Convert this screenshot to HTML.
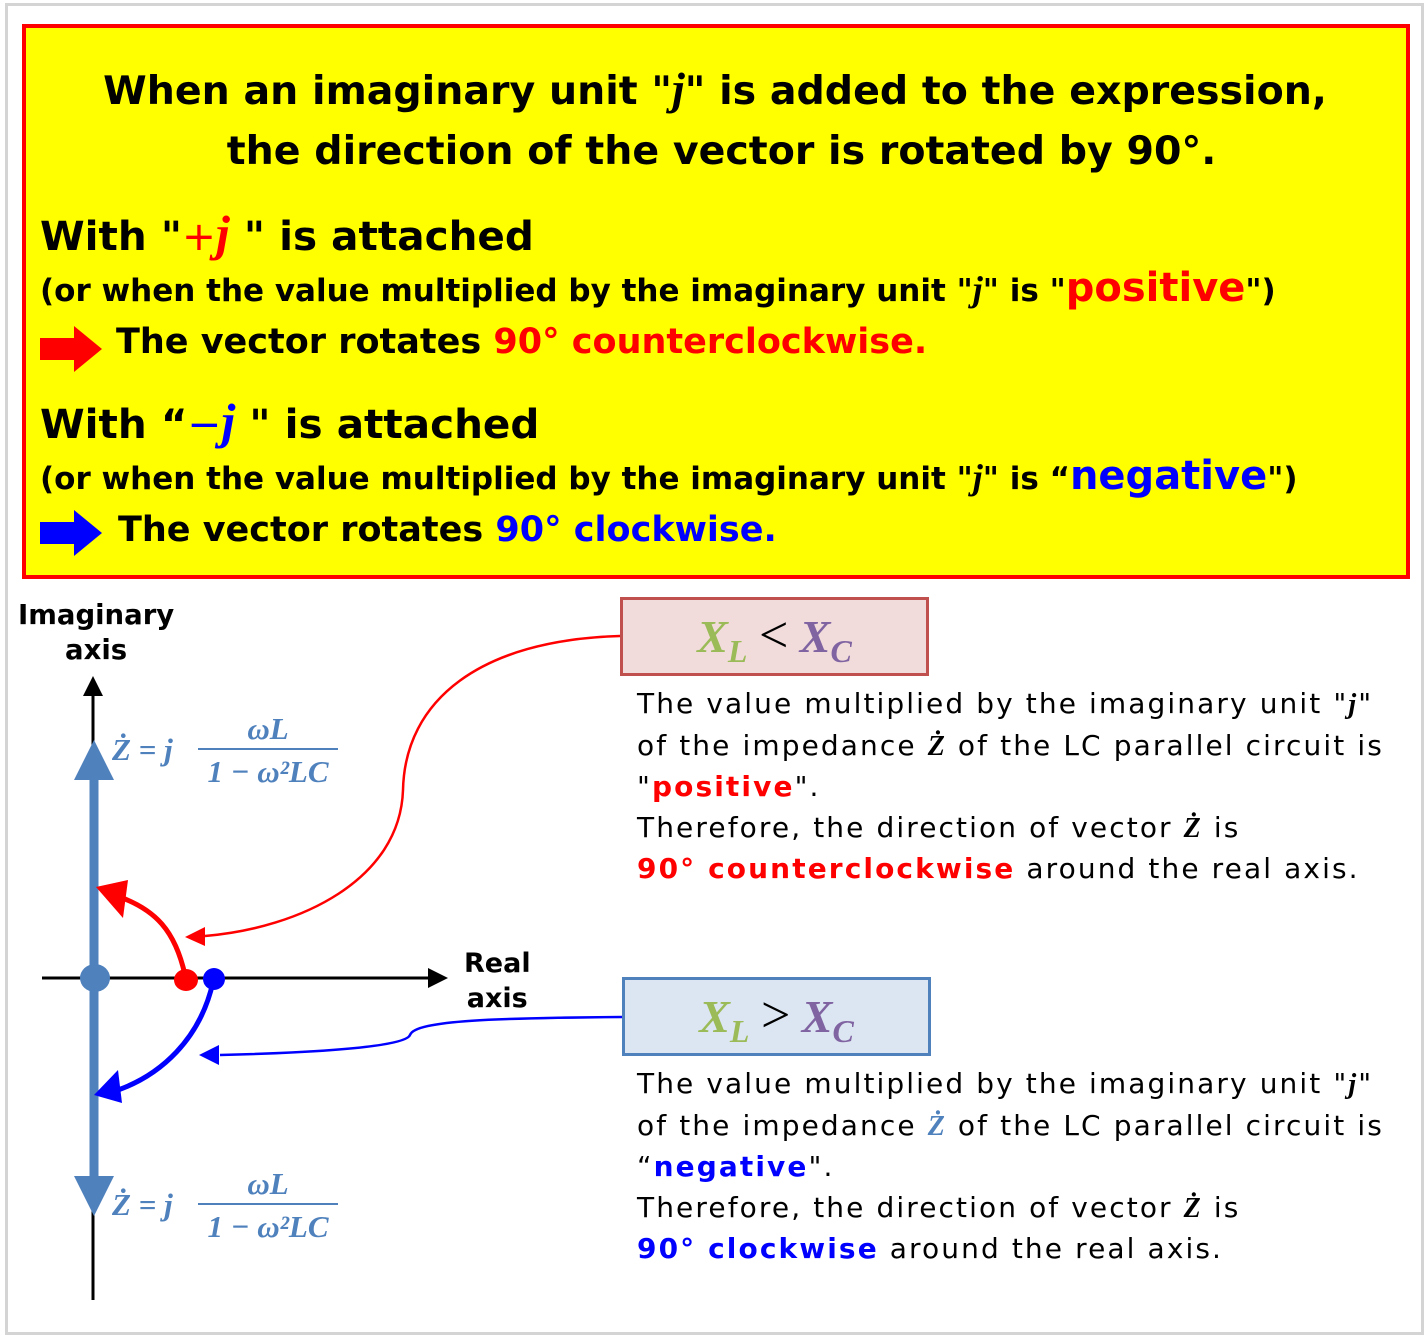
<!DOCTYPE html>
<html><head><meta charset="utf-8"><style>
body{margin:0;width:1427px;height:1337px;background:#fff;position:relative;overflow:hidden;font-family:"DejaVu Sans","Liberation Sans",sans-serif}
.frame{position:absolute;left:5px;top:3px;width:1413px;height:1326px;border:3px solid #d4d4d4}
.yb{position:absolute;left:22px;top:24px;width:1380px;height:547px;background:#ffff00;border:4px solid #ff0000}
.t{position:absolute;white-space:nowrap;font-weight:bold;color:#000}
.r{color:#ff0000}.b{color:#0000ff}
.j{font-family:"Liberation Serif",serif;font-style:italic;font-weight:bold}
.p{position:absolute;left:637px;white-space:nowrap;font-size:28px;color:#000;letter-spacing:2.1px;line-height:40.5px}
.box{position:absolute;font-family:"Liberation Serif",serif;font-style:italic;font-weight:bold;font-size:46px;text-align:center;box-sizing:border-box;border:3px solid}
.m{font-family:"Liberation Serif",serif;font-style:italic;font-weight:bold}
.f{position:absolute;font-family:"Liberation Serif",serif;font-style:italic;font-weight:bold;color:#4f81bd;font-size:31px;white-space:nowrap}
</style></head><body>
<div class="frame"></div>
<div class="yb"></div>
<div class="t" style="left:0;width:1430px;text-align:center;top:62px;font-size:39.5px">When an imaginary unit "<span class="j" style="font-size:46px">j</span>" is added to the expression,</div>
<div class="t" style="left:0;width:1443px;text-align:center;top:128px;font-size:39.5px">the direction of the vector is rotated by 90°.</div>
<div class="t" style="left:40px;top:204px;font-size:40.5px">With "<span class="r" style="font-weight:normal">+</span><span class="j r" style="font-size:50px">j</span> " is attached</div>
<div class="t" style="left:40px;top:265px;font-size:31px">(or when the value multiplied by the imaginary unit "<span class="j" style="font-size:36px">j</span>" is "<span class="r" style="font-size:40px">positive</span>")</div>
<svg style="position:absolute;left:40px;top:326px" width="62" height="46"><polygon points="0,12 34,12 34,0 62,23 34,46 34,34 0,34" fill="#ff0000"/></svg>
<div class="t" style="left:116px;top:322px;font-size:35px">The vector rotates <span class="r">90° counterclockwise.</span></div>
<div class="t" style="left:40px;top:392px;font-size:40.5px">With “<span class="b" style="font-weight:normal">−</span><span class="j b" style="font-size:50px">j</span> " is attached</div>
<div class="t" style="left:40px;top:453px;font-size:31px">(or when the value multiplied by the imaginary unit "<span class="j" style="font-size:36px">j</span>" is “<span class="b" style="font-size:40px">negative</span>")</div>
<svg style="position:absolute;left:40px;top:510px" width="62" height="46"><polygon points="0,12 34,12 34,0 62,23 34,46 34,34 0,34" fill="#0000ff"/></svg>
<div class="t" style="left:118px;top:510px;font-size:35px">The vector rotates <span class="b">90° clockwise.</span></div>

<div class="t" style="left:18px;top:598px;font-size:27.5px;text-align:center;line-height:35px">Imaginary<br>axis</div>
<div class="t" style="left:464px;top:946px;font-size:27px;text-align:center;line-height:35px">Real<br>axis</div>

<div class="box" style="left:620px;top:597px;width:309px;height:79px;background:#f2dcdb;border-color:#c0504d;line-height:72px"><span style="color:#9bbb59">X<sub style="font-size:32px">L</sub></span> <span style="color:#000;font-style:normal;font-weight:normal;font-size:52px">&lt;</span> <span style="color:#8064a2">X<sub style="font-size:32px">C</sub></span></div>
<div class="box" style="left:622px;top:977px;width:309px;height:79px;background:#dce6f2;border-color:#4f81bd;line-height:72px"><span style="color:#9bbb59">X<sub style="font-size:32px">L</sub></span> <span style="color:#000;font-style:normal;font-weight:normal;font-size:52px">&gt;</span> <span style="color:#8064a2">X<sub style="font-size:32px">C</sub></span></div>

<div class="p" style="top:684px">The value multiplied by the imaginary unit "<span class="m">j</span>"<br>of the impedance <span class="m">Ż</span> of the LC parallel circuit is<br>"<b class="r">positive</b>".<br>Therefore, the direction of vector <span class="m">Ż</span> is<br><b class="r">90° counterclockwise</b> around the real axis.</div>
<div class="p" style="top:1064px">The value multiplied by the imaginary unit "<span class="m">j</span>"<br>of the impedance <span class="m" style="color:#4f81bd">Ż</span> of the LC parallel circuit is<br>“<b class="b">negative</b>".<br>Therefore, the direction of vector <span class="m">Ż</span> is<br><b class="b">90° clockwise</b> around the real axis.</div>

<div class="f" style="left:112px;top:732px">Ż = j</div>
<div class="f" style="left:198px;top:710px;width:140px;text-align:center;border-bottom:2px solid #4f81bd;line-height:38px">ωL</div>
<div class="f" style="left:198px;top:752px;width:140px;text-align:center;line-height:40px">1 − ω²LC</div>
<div class="f" style="left:112px;top:1187px">Ż = j</div>
<div class="f" style="left:198px;top:1165px;width:140px;text-align:center;border-bottom:2px solid #4f81bd;line-height:38px">ωL</div>
<div class="f" style="left:198px;top:1207px;width:140px;text-align:center;line-height:40px">1 − ω²LC</div>

<svg style="position:absolute;left:0;top:0" width="1427" height="1337">
<line x1="93" y1="690" x2="93" y2="1300" stroke="#000" stroke-width="3"/>
<polygon points="93,676 83,696 103,696" fill="#000"/>
<line x1="42" y1="978" x2="432" y2="978" stroke="#000" stroke-width="3"/>
<polygon points="448,978 428,968 428,988" fill="#000"/>
<line x1="94" y1="770" x2="94" y2="1180" stroke="#4f81bd" stroke-width="9"/>
<polygon points="94,740 74,780 114,780" fill="#4f81bd"/>
<polygon points="94,1216 74,1176 114,1176" fill="#4f81bd"/>
<ellipse cx="95" cy="978" rx="15" ry="14" fill="#4f81bd"/>
<path d="M185,975 C175,930 155,910 120,897" fill="none" stroke="#ff0000" stroke-width="5"/>
<polygon points="96,887 123,918 128,880" fill="#ff0000"/>
<path d="M213,982 C200,1040 160,1075 118,1090" fill="none" stroke="#0000ff" stroke-width="5"/>
<polygon points="94,1095 118,1070 122,1103" fill="#0000ff"/>
<ellipse cx="186" cy="980" rx="12" ry="11" fill="#ff0000"/>
<ellipse cx="214" cy="979" rx="11" ry="11" fill="#0000ff"/>
<path d="M620,636 C480,640 405,700 403,790 C400,880 300,928 205,936" fill="none" stroke="#ff0000" stroke-width="2.5"/>
<polygon points="185,937 205,927 205,946" fill="#ff0000"/>
<path d="M622,1017 C500,1018 415,1020 410,1035 C405,1048 300,1053 220,1055" fill="none" stroke="#0000ff" stroke-width="2.5"/>
<polygon points="199,1055 219,1045 219,1065" fill="#0000ff"/>
</svg>
</body></html>
